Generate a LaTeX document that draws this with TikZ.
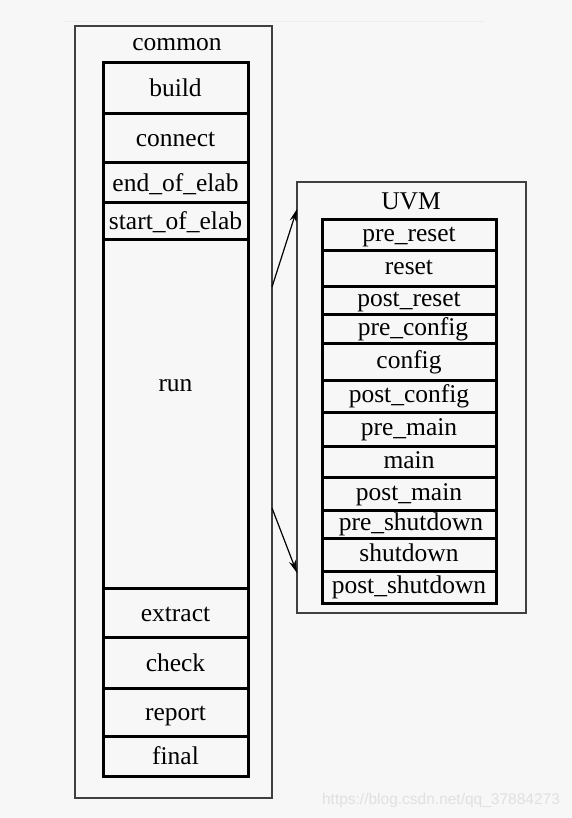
\documentclass[tikz,border=0pt]{standalone}
\usepackage{fontspec}
\setmainfont{Liberation Serif}
\newfontfamily\wmfont{Liberation Sans}
\usetikzlibrary{arrows.meta}
\definecolor{bg}{HTML}{F7F7F7}
\definecolor{outerc}{HTML}{404040}
\definecolor{wmc}{HTML}{E0E0E0}
\definecolor{topline}{HTML}{EDEDED}
\begin{document}
\begin{tikzpicture}[x=1pt,y=-1pt,
  every node/.style={font=\fontsize{25.5}{27}\selectfont},
  outerbox/.style={draw=outerc,line width=1.5pt,fill=none},
  cbox/.style={draw=black,line width=3pt,minimum width=145pt,inner sep=0pt,text height=19pt,text depth=2pt,anchor=center},
  ubox/.style={draw=black,line width=3pt,minimum width=174pt,inner sep=0pt,text height=17pt,text depth=4pt,anchor=center},
  arr/.style={draw=black,line width=1.2pt,-{Stealth[length=13pt,width=7pt]}}]
\fill[bg] (0,0) rectangle (572,818);
\useasboundingbox (0,0) rectangle (572,818);
\draw[topline,line width=0.8pt] (63,21) -- (485,21);
% outer boxes
\node[outerbox,minimum width=197pt,minimum height=772pt,inner sep=0pt] (common) at (173.5,412) {};
\node[outerbox,minimum width=229pt,minimum height=431pt,inner sep=0pt] (uvm) at (411.5,397.5) {};
\node (commonlbl) at (177,45) {common};
\node (uvmlbl) at (411,201) {UVM};
% common column
\node[cbox,minimum height=51pt] (build) at (175.5,88.5) {build};
\node[cbox,minimum height=49pt] (connect) at (175.5,138.5) {connect};
\node[cbox,minimum height=40pt] (endelab) at (175.5,183) {end\_of\_elab};
\node[cbox,minimum height=36pt] (startelab) at (175.5,221) {start\_of\_elab};
\node[cbox,minimum height=349pt] (run) at (175.5,413.5) {};
\node (runlbl) at (175.5,386) {run};
\node[cbox,minimum height=49pt] (extract) at (175.5,612.5) {extract};
\node[cbox,minimum height=51pt] (check) at (175.5,662.5) {check};
\node[cbox,minimum height=48pt] (report) at (175.5,712) {report};
\node[cbox,minimum height=40pt] (final) at (175.5,756) {final};
% uvm column
\node[ubox,minimum height=30pt] (prereset) at (409,235) {pre\_reset};
\node[ubox,minimum height=36pt] (reset) at (409,268) {reset};
\node[ubox,minimum height=28pt] (postreset) at (409,300) {post\_reset};
\node[ubox,minimum height=29pt] (preconfig) at (409,328.5) {\hspace{8pt}pre\_config};
\node[ubox,minimum height=37pt] (config) at (409,361.5) {config};
\node[ubox,minimum height=32pt] (postconfig) at (409,396) {post\_config};
\node[ubox,minimum height=34pt] (premain) at (409,429) {pre\_main};
\node[ubox,minimum height=31pt] (main) at (409,461.5) {main};
\node[ubox,minimum height=33pt] (postmain) at (409,493.5) {post\_main};
\node[ubox,minimum height=28pt] (preshutdown) at (409,524) {\hspace{4pt}pre\_shutdown};
\node[ubox,minimum height=33pt] (shutdown) at (409,554.5) {shutdown};
\node[ubox,minimum height=32pt] (postshutdown) at (409,587) {post\_shutdown};
% arrows
\coordinate (up0) at (272,287);
\coordinate (up1) at (297,209);
\coordinate (dn0) at (272,508);
\coordinate (dn1) at (297,573);
\draw[arr] (up0) -- (up1);
\draw[arr] (dn0) -- (dn1);
% watermark
\node[font=\wmfont\fontsize{15.5}{17}\selectfont,text=wmc,inner sep=0pt] (wm) at (441,800) {https://blog.csdn.net/qq\_37884273};
\end{tikzpicture}
\end{document}
